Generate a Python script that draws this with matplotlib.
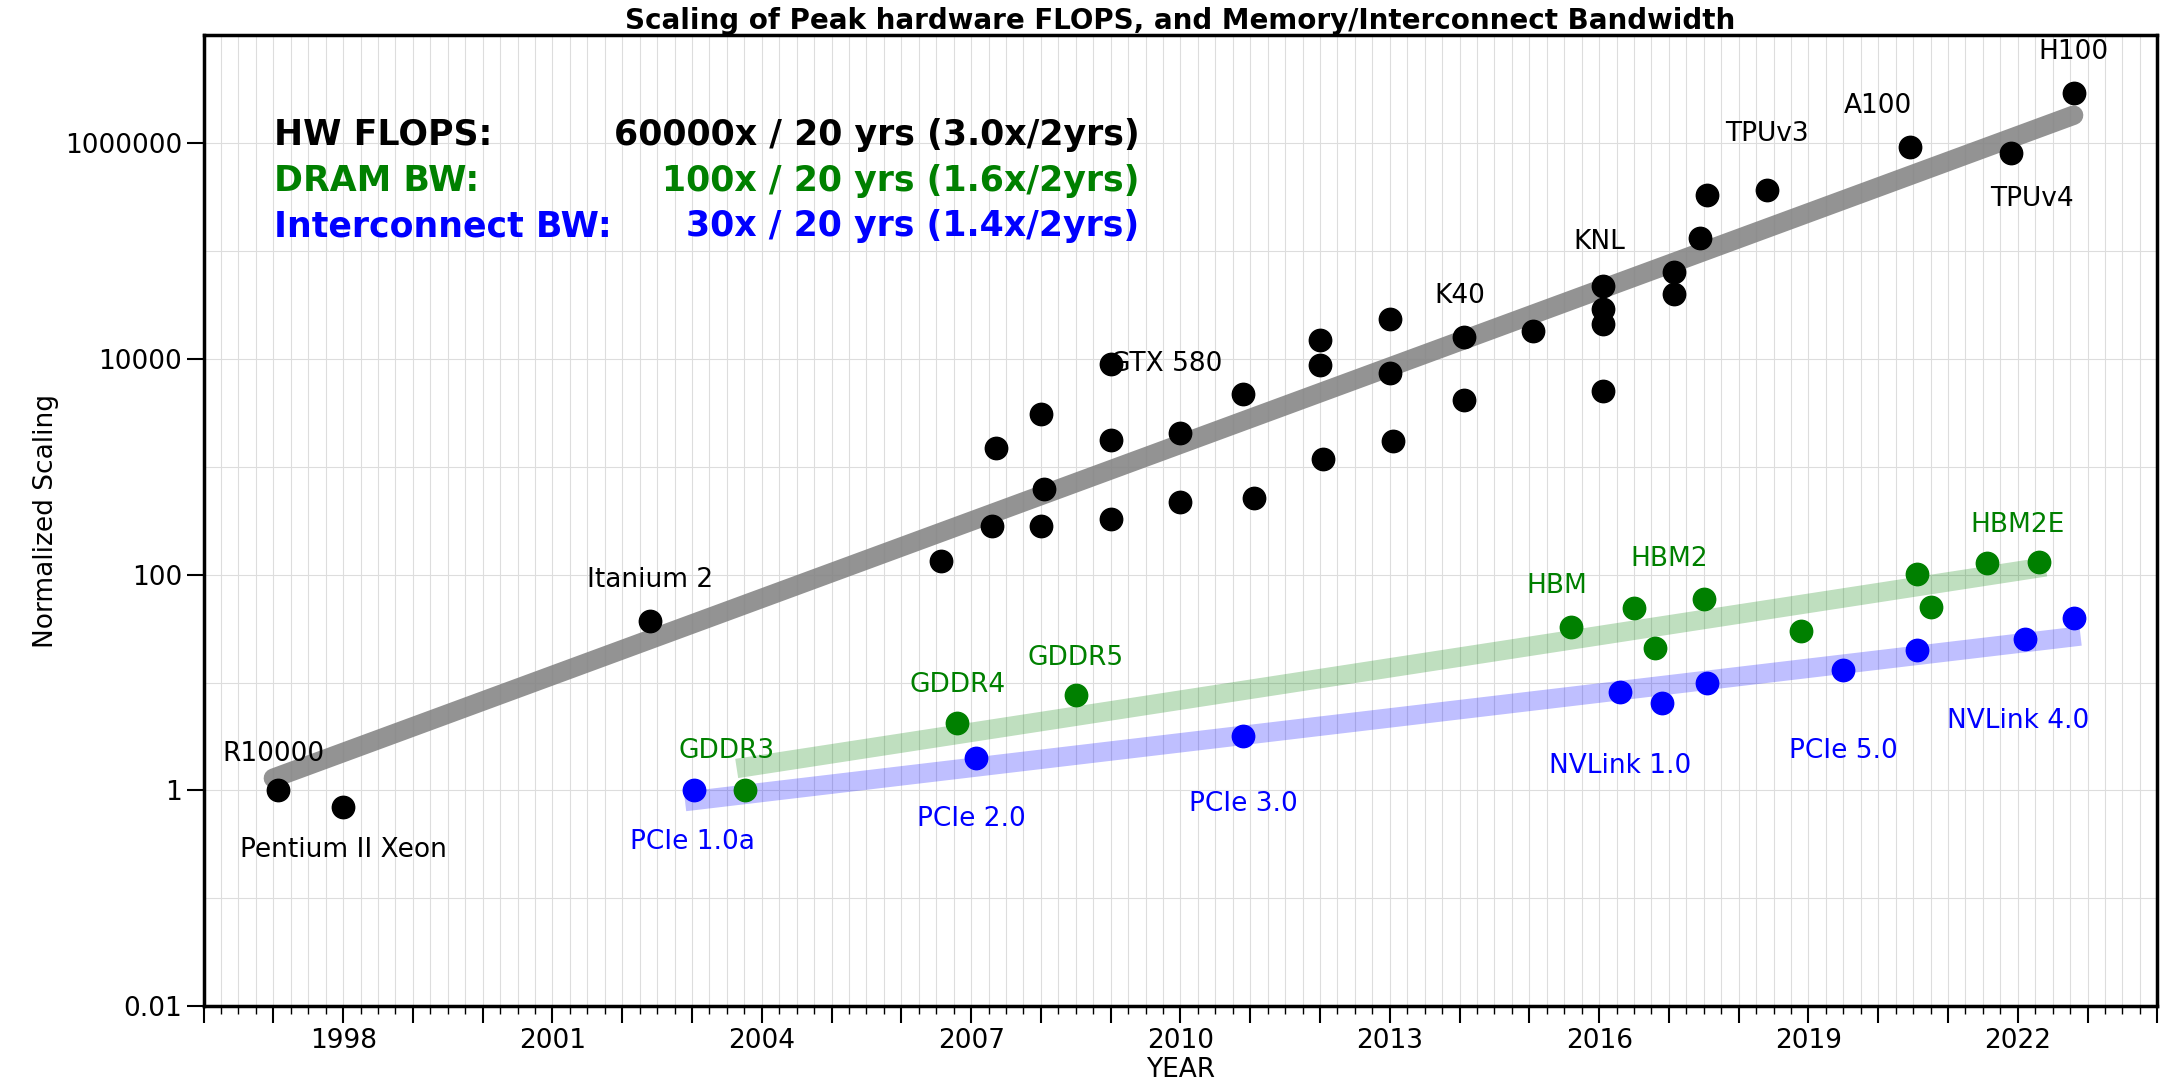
import numpy as np
import matplotlib.pyplot as plt
from matplotlib.ticker import FixedLocator, MultipleLocator, FuncFormatter

# HW FLOPS (year, normalized)
hw_year = [1997.07, 1998.0, 2002.4, 2006.57, 2007.3, 2007.35, 2008.04, 2008.0, 2008.0,
           2009.0, 2009.0, 2009.0, 2010.0, 2010.0, 2010.9, 2011.05, 2012.04, 2012.0, 2012.0,
           2013.05, 2013.0, 2013.0, 2014.06, 2014.06, 2015.05, 2016.06, 2016.06, 2016.06,
           2016.06, 2017.07, 2017.07, 2017.45, 2017.55, 2018.4, 2020.45, 2021.9, 2022.8]
hw_val = [1, 0.7, 37, 133, 280, 1500, 620, 280, 3100, 330, 1780, 8900, 470, 2050, 4700,
          515, 1180, 8700, 15000, 1730, 7300, 23500, 4150, 16000, 18000, 5000, 21000,
          29000, 47000, 40000, 63000, 132000, 325000, 365000, 910000, 810000, 2.9e6]
hw_trend_x = [1997.0, 2022.8]
hw_trend_y = [1.3, 1.8e6]

dram_year = [2003.76, 2006.8, 2008.5, 2015.6, 2016.5, 2016.8, 2017.5, 2018.9, 2020.55,
             2020.75, 2021.56, 2022.3]
dram_val = [1, 4.2, 7.6, 33, 49, 21, 60, 30, 102, 50, 129, 132]
dram_trend_x = [2003.64, 2022.4]
dram_trend_y = [1.6, 118]

ic_year = [2003.03, 2007.07, 2010.9, 2016.3, 2016.9, 2017.55, 2019.5, 2020.55, 2022.1, 2022.8]
ic_val = [1, 2.0, 3.2, 8.1, 6.4, 10, 13, 20, 25.5, 40]
ic_trend_x = [2002.9, 2022.9]
ic_trend_y = [0.79, 27]

# labels: (text, x, y)
hw_labels = [("R10000", 1997.0, 2.2), ("Pentium II Xeon", 1998.0, 0.28), ("Itanium 2", 2002.4, 90),
             ("GTX 580", 2009.8, 9000), ("K40", 2014.0, 38000), ("KNL", 2016.0, 120000),
             ("TPUv3", 2018.4, 1.2e6), ("A100", 2020.0, 2.2e6), ("H100", 2022.8, 7e6),
             ("TPUv4", 2022.2, 300000)]
dram_labels = [("GDDR3", 2003.5, 2.3), ("GDDR4", 2006.8, 9.5), ("GDDR5", 2008.5, 17),
               ("HBM", 2015.4, 78), ("HBM2", 2017.0, 140), ("HBM2E", 2022.0, 290)]
ic_labels = [("PCIe 1.0a", 2003.0, 0.33), ("PCIe 2.0", 2007.0, 0.55), ("PCIe 3.0", 2010.9, 0.75),
             ("NVLink 1.0", 2016.3, 1.7), ("PCIe 5.0", 2019.5, 2.3), ("NVLink 4.0", 2022.0, 4.4)]

fig = plt.figure(figsize=(21.66, 10.88), dpi=100)
ax = fig.add_axes([0.094, 0.075, 0.902, 0.893])
ax.set_yscale('log')
ax.set_xlim(1996, 2024)
ax.set_ylim(0.01, 1e7)

ax.plot(hw_trend_x, hw_trend_y, color='gray', lw=14, alpha=0.85, solid_capstyle='round', zorder=1)
ax.plot(dram_trend_x, dram_trend_y, color='green', lw=14, alpha=0.25, solid_capstyle='butt', zorder=1)
ax.plot(ic_trend_x, ic_trend_y, color='blue', lw=14, alpha=0.25, solid_capstyle='butt', zorder=1)

ax.scatter(hw_year, hw_val, s=260, color='black', zorder=3)
ax.scatter(dram_year, dram_val, s=260, color='green', zorder=3)
ax.scatter(ic_year, ic_val, s=260, color='blue', zorder=3)

for txt, x, y in hw_labels:
    ax.text(x, y, txt, color='black', fontsize=19, ha='center', va='center')
for txt, x, y in dram_labels:
    ax.text(x, y, txt, color='green', fontsize=19, ha='center', va='center')
for txt, x, y in ic_labels:
    ax.text(x, y, txt, color='blue', fontsize=19, ha='center', va='center')

summary = [("HW FLOPS:", "60000x / 20 yrs (3.0x/2yrs)", 'black'),
           ("DRAM BW:", "100x / 20 yrs (1.6x/2yrs)", 'green'),
           ("Interconnect BW:", "30x / 20 yrs (1.4x/2yrs)", 'blue')]
for i, (a, b, c) in enumerate(summary):
    yy = 0.897 - i * 0.047
    ax.text(0.036, yy, a, transform=ax.transAxes, color=c, fontsize=25, fontweight='bold', va='center')
    ax.text(0.479, yy, b, transform=ax.transAxes, color=c, fontsize=25, fontweight='bold', va='center', ha='right')

ax.xaxis.set_major_locator(MultipleLocator(1))
ax.xaxis.set_minor_locator(MultipleLocator(0.25))
ax.xaxis.set_major_formatter(FuncFormatter(lambda v, p: str(int(round(v))) if int(round(v)) % 3 == 0 else ''))
ax.yaxis.set_major_locator(FixedLocator([0.01, 1, 100, 1e4, 1e6]))
ax.yaxis.set_minor_locator(FixedLocator([0.1, 10, 1000, 1e5, 1e7]))
ax.yaxis.set_major_formatter(FuncFormatter(lambda v, p: ('%g' % v) if v < 1 else str(int(v))))
ax.yaxis.set_minor_formatter(FuncFormatter(lambda v, p: ''))
ax.tick_params(axis='both', which='major', labelsize=19, length=12, width=1.5)
ax.tick_params(axis='x', which='minor', length=6, width=1)
ax.tick_params(axis='y', which='minor', length=0)
ax.grid(True, which='both', color='#dddddd', lw=0.8, zorder=0)
ax.set_axisbelow(True)
for s in ax.spines.values():
    s.set_linewidth(2.5)

ax.set_xlabel("YEAR", fontsize=19, labelpad=2)
ax.set_ylabel("Normalized Scaling", fontsize=19)
ax.set_title("Scaling of Peak hardware FLOPS, and Memory/Interconnect Bandwidth",
             fontsize=20, fontweight='bold', pad=4)

fig.savefig("out.png", dpi=100)
